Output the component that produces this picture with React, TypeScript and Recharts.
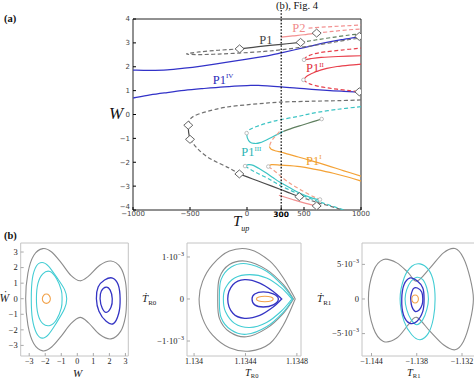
import React from "react";
import { ComposedChart, Line, Scatter, XAxis, YAxis, ReferenceArea, ReferenceLine } from "recharts";

type Pt = [number, number];

// ---- (a) branches in the (T_up, W) plane ----
const p1IvUpper: Pt[] = [[-1000, 1.86], [-850, 1.85], [-700, 1.87], [-550, 1.94], [-400, 2.03], [-200, 2.17], [0, 2.32], [200, 2.48], [300, 2.58], [500, 2.8], [700, 3.02], [850, 3.15], [985, 3.25]];
const p1IvLower: Pt[] = [[-1000, 0.69], [-850, 0.82], [-700, 0.92], [-550, 1.01], [-400, 1.08], [-200, 1.16], [0, 1.21], [100, 1.22], [300, 1.16], [500, 1.08], [700, 1.01], [850, 0.97], [985, 0.94]];
const p1Solid: Pt[] = [[-65, 2.75], [100, 2.84], [300, 2.94], [470, 3.02]];
const p1DashFold: Pt[] = [[-65, 2.75], [-250, 2.69], [-420, 2.62], [-530, 2.54], [-430, 2.51], [-250, 2.53], [-50, 2.58], [150, 2.64], [300, 2.71], [450, 2.8], [600, 2.9], [750, 3.02], [900, 3.14], [1000, 3.2]];
const p1DashRight: Pt[] = [[470, 3.02], [600, 3.12], [750, 3.23], [900, 3.33], [1000, 3.38]];
const p2Solid: Pt[] = [[300, 3.24], [400, 3.29], [500, 3.34], [611, 3.41]];
const p2DashLow: Pt[] = [[611, 3.41], [750, 3.48], [900, 3.55], [1000, 3.58]];
const p2DashHigh: Pt[] = [[540, 3.62], [700, 3.67], [850, 3.71], [1000, 3.75]];
const p1IiUpSolid: Pt[] = [[500, 2.29], [560, 2.34], [650, 2.39], [800, 2.43], [1000, 2.46]];
const p1IiUpDash: Pt[] = [[500, 2.29], [525, 2.42], [580, 2.53], [680, 2.62], [830, 2.7], [1000, 2.78]];
const p1IiLowSolid: Pt[] = [[495, 1.45], [530, 1.62], [610, 1.8], [700, 1.93], [790, 2.01], [900, 2.07], [1000, 2.11]];
const p1IiLowDash: Pt[] = [[495, 1.45], [540, 1.3], [610, 1.2], [700, 1.12], [790, 1.06], [900, 1.0], [985, 0.95]];
const grayArcTop: Pt[] = [[1000, 0.61], [800, 0.58], [600, 0.56], [300, 0.52], [100, 0.45], [-150, 0.33], [-300, 0.19], [-440, -0.01], [-500, -0.2], [-515, -0.43]];
const grayArcMid: Pt[] = [[-515, -0.43], [-512, -0.75], [-500, -1.03]];
const grayArcLow: Pt[] = [[-500, -1.03], [-440, -1.4], [-354, -1.76], [-250, -2.03], [-150, -2.26], [-67, -2.49]];
const graySolidLow: Pt[] = [[-67, -2.49], [50, -2.7], [150, -2.88], [290, -3.13], [380, -3.3], [459, -3.44]];
const grayTail: Pt[] = [[459, -3.44], [560, -3.6], [650, -3.73], [750, -3.87], [850, -4.02], [900, -4.1]];
const p1IiiUpDash: Pt[] = [[1000, 0.33], [800, 0.22], [580, 0.06], [450, -0.08], [290, -0.22], [180, -0.35], [85, -0.5], [20, -0.64], [-3, -0.78]];
const p1IiiUpSolid: Pt[] = [[-3, -0.78], [3, -0.98], [25, -1.15], [60, -1.21], [115, -1.18], [230, -0.92], [318, -0.71]];
const p1IiiUpTail: Pt[] = [[318, -0.71], [410, -0.55], [494, -0.43], [580, -0.3], [655, -0.19]];
const p1IiiLowSolid: Pt[] = [[-17, -2.16], [15, -2.1], [55, -2.13], [120, -2.3], [173, -2.46], [230, -2.65], [290, -2.84], [380, -3.08], [465, -3.3], [560, -3.48], [640, -3.58]];
const p1IiiLowDash: Pt[] = [[-17, -2.16], [30, -2.3], [100, -2.48], [200, -2.72], [290, -2.97], [400, -3.22], [500, -3.42], [600, -3.6], [700, -3.76], [850, -4.0], [900, -4.1]];
const p1IUpDash: Pt[] = [[285, -0.72], [245, -0.93], [212, -1.14], [196, -1.34]];
const p1IUpSolid: Pt[] = [[196, -1.34], [212, -1.46], [255, -1.53], [304, -1.58], [350, -1.65], [450, -1.78], [553, -1.92], [700, -2.13], [850, -2.36], [1000, -2.58]];
const p1ILowSolid: Pt[] = [[187, -2.18], [215, -2.1], [300, -2.12], [465, -2.18], [600, -2.3], [757, -2.46], [900, -2.64], [1000, -2.79]];
const p1ILowDash: Pt[] = [[187, -2.18], [230, -2.32], [270, -2.48], [300, -2.6], [377, -2.88], [480, -3.18], [582, -3.44], [640, -3.55]];
const p2LowSolid: Pt[] = [[280, -3.38], [400, -3.56], [500, -3.7], [611, -3.83]];

const bifDiamonds: Pt[] = [[-65, 2.75], [470, 3.02], [611, 3.41], [985, 3.27], [985, 0.95], [-515, -0.45], [-500, -1.04], [-67, -2.49], [459, -3.44], [611, -3.83]];
const foldMarks: Pt[] = [[-3, -0.78], [655, -0.19], [-17, -2.16], [187, -2.18], [500, 2.29], [495, 1.45], [640, -3.56]];

const curveLabels = [
  { x: 160, y: 3.13, name: "P1", sup: "", color: "#444" },
  { x: 450, y: 3.64, name: "P2", sup: "", color: "#f08a8a" },
  { x: 570, y: 1.94, name: "P1", sup: "II", color: "#e0303c" },
  { x: -247, y: 1.45, name: "P1", sup: "IV", color: "#2a2ab8" },
  { x: 2, y: -1.59, name: "P1", sup: "III", color: "#2ab5b5" },
  { x: 570, y: -1.94, name: "P1", sup: "I", color: "#f0a030" },
];

const tupTicks = [-1000, -500, 0, 300, 500, 1000];
const wTicks = [-4, -3, -2, -1, 0, 1, 2, 3, 4];

// ---- (b) phase portraits ----
const wGray: Pt[] = [[-3.22, 0], [-3.08, 1.65], [-2.72, 2.78], [-2.15, 3.22], [-1.6, 3.0], [-1.0, 2.3], [-0.4, 1.5], [0.17, 1.15], [0.7, 1.45], [1.4, 2.15], [2.1, 2.42], [2.7, 2.0], [3.0, 1.1], [3.07, 0], [3.0, -1.15], [2.7, -2.1], [2.1, -2.58], [1.4, -2.3], [0.7, -1.55], [0.17, -1.2], [-0.4, -1.6], [-1.0, -2.4], [-1.6, -3.1], [-2.15, -3.35], [-2.72, -2.88], [-3.08, -1.7]];
const wCyanOut: Pt[] = [[-2.87, 0], [-2.8, 1.3], [-2.55, 2.1], [-2.2, 2.33], [-1.8, 2.1], [-1.3, 1.4], [-0.8, 0.6], [-0.66, 0], [-0.8, -0.65], [-1.3, -1.55], [-1.8, -2.3], [-2.2, -2.53], [-2.55, -2.2], [-2.8, -1.3]];
const wCyanIn: Pt[] = [[-2.55, 0], [-2.45, 1.0], [-2.15, 1.6], [-1.7, 1.75], [-1.3, 1.3], [-1.0, 0.55], [-0.95, 0], [-1.0, -0.6], [-1.3, -1.35], [-1.7, -1.72], [-2.15, -1.6], [-2.45, -1.0]];
const wOrange: Pt[] = [[-2.18, 0], [-2.1, 0.22], [-1.93, 0.3], [-1.76, 0.22], [-1.68, 0], [-1.76, -0.22], [-1.93, -0.3], [-2.1, -0.22]];
const wBlueOut: Pt[] = [[1.19, 0], [1.3, 0.75], [1.7, 1.2], [2.2, 1.33], [2.55, 0.9], [2.67, 0], [2.58, -0.95], [2.25, -1.6], [1.8, -1.45], [1.35, -0.8]];
const wBlueIn: Pt[] = [[1.42, 0], [1.5, 0.5], [1.8, 0.75], [2.05, 0.55], [2.18, 0], [2.1, -0.55], [1.8, -0.88], [1.55, -0.6]];

const r0GrayOut: Pt[] = [[1.134787, 0], [1.134695, 0.0005], [1.13459, 0.0009], [1.134433, 0.00118], [1.134275, 0.00114], [1.134144, 0.00082], [1.134066, 0.00042], [1.134039, 0], [1.134066, -0.00046], [1.134144, -0.00086], [1.134275, -0.00116], [1.134433, -0.00124], [1.13459, -0.00106], [1.134695, -0.00062]];
const r0GrayIn: Pt[] = [[1.134774, 0], [1.134695, 0.00034], [1.134564, 0.0007], [1.134407, 0.0009], [1.134275, 0.00082], [1.134197, 0.0005], [1.134184, 0], [1.134197, -0.00046], [1.134275, -0.00078], [1.134407, -0.0009], [1.134564, -0.0007], [1.134695, -0.00034]];
const r0CyanOut: Pt[] = [[1.134769, 0], [1.134695, 0.0003], [1.134564, 0.00066], [1.134407, 0.00084], [1.134289, 0.00076], [1.13421, 0.00046], [1.134197, 0], [1.13421, -0.00044], [1.134289, -0.00074], [1.134407, -0.00084], [1.134564, -0.00066], [1.134695, -0.00031]];
const r0CyanIn: Pt[] = [[1.134761, 0], [1.134682, 0.00026], [1.134564, 0.0005], [1.134433, 0.00058], [1.134315, 0.0005], [1.134244, 0.00026], [1.134228, 0], [1.134244, -0.0003], [1.134315, -0.00058], [1.134433, -0.00068], [1.134564, -0.00056], [1.134682, -0.00028]];
const r0BlueOut: Pt[] = [[1.134682, 0], [1.134616, 0.00018], [1.134511, 0.00038], [1.134393, 0.00046], [1.134302, 0.00034], [1.134262, 0], [1.134302, -0.00034], [1.134393, -0.00046], [1.134511, -0.00039], [1.134616, -0.00019]];
const r0BlueIn: Pt[] = [[1.134656, 0], [1.134616, 0.00012], [1.134538, 0.00017], [1.134472, 0.00012], [1.134451, 0], [1.134472, -0.00014], [1.134538, -0.00019], [1.134616, -0.00014]];
const r0Orange: Pt[] = [[1.134616, 0], [1.134598, 0.000048], [1.134551, 0.000064], [1.134504, 0.000048], [1.134485, 0], [1.134504, -0.000048], [1.134551, -0.000064], [1.134598, -0.000048]];

const r1Gray: Pt[] = [[-1.14242, 0.0057], [-1.14065, 0.00522], [-1.13911, 0.00377], [-1.138, 0.00256], [-1.13623, 0.00449], [-1.13446, 0.00667], [-1.13292, 0.00729], [-1.13181, 0.00594], [-1.13093, 0.00304], [-1.13049, 0], [-1.13093, -0.00324], [-1.13181, -0.00613], [-1.13292, -0.00734], [-1.13446, -0.00662], [-1.13623, -0.00469], [-1.138, -0.00266], [-1.13911, -0.00372], [-1.14065, -0.00565], [-1.14242, -0.00613], [-1.14375, -0.0042], [-1.14441, 0], [-1.14375, 0.00401]];
const r1CyanOut: Pt[] = [[-1.13557, 0], [-1.13579, 0.00256], [-1.13645, 0.00425], [-1.13756, 0.00507], [-1.13866, 0.00473], [-1.13968, 0.00304], [-1.14021, 0], [-1.13968, -0.00324], [-1.13866, -0.00517], [-1.13756, -0.00589], [-1.13645, -0.00493], [-1.13579, -0.00275]];
const r1CyanIn: Pt[] = [[-1.13645, 0], [-1.13667, 0.00159], [-1.1372, 0.0028], [-1.138, 0.00314], [-1.13875, 0.00256], [-1.13933, 0.00135], [-1.13955, 0], [-1.13933, -0.00155], [-1.13875, -0.00299], [-1.138, -0.00372], [-1.1372, -0.00299], [-1.13667, -0.00155]];
const r1BlueOut: Pt[] = [[-1.13703, 0], [-1.1372, 0.00159], [-1.138, 0.00266], [-1.13888, 0.00304], [-1.13968, 0.00208], [-1.13999, 0], [-1.13977, -0.00227], [-1.13897, -0.00348], [-1.138, -0.00324], [-1.1372, -0.00179]];
const r1BlueIn: Pt[] = [[-1.1372, 0], [-1.13734, 0.00101], [-1.13791, 0.00159], [-1.13844, 0.0015], [-1.13875, 0.00063], [-1.1388, 0], [-1.13866, -0.00106], [-1.13822, -0.00179], [-1.13765, -0.00155], [-1.13729, -0.00082]];
const r1Orange: Pt[] = [[-1.13778, 0], [-1.13791, 0.00043], [-1.13822, 0.00058], [-1.13853, 0.00043], [-1.13866, 0], [-1.13853, -0.00043], [-1.13822, -0.00058], [-1.13791, -0.00043]];

const BLUE = "#3232c8";
const RED = "#e8404c";
const PINK = "#f29090";
const GRAY = "#707070";
const DARK = "#4a4a4a";
const CYAN = "#3cc4c4";
const ORANGE = "#f4a236";
const OLIVE = "#5f7f5f";
const SALMON = "#f3a08a";
const DASH = "4 2.5";

const rows = (pts: Pt[]) => pts.map(([x, y]) => ({ x, y }));

// catmull-rom through the points, optionally closed and with a corner at the first point
const smooth = (closed: boolean, cusp = false) => (ctx: any) => {
  let pts: number[][] = [];
  return {
    areaStart() {},
    areaEnd() {},
    lineStart() { pts = []; },
    point(x: number, y: number) { pts.push([+x, +y]); },
    lineEnd() {
      const n = pts.length;
      if (n < 2) return;
      const at = (i: number) => (closed ? pts[((i % n) + n) % n] : pts[Math.min(n - 1, Math.max(0, i))]);
      ctx.moveTo(pts[0][0], pts[0][1]);
      const segs = closed ? n : n - 1;
      for (let i = 0; i < segs; i++) {
        const p1 = at(i), p2 = at(i + 1);
        const p0 = cusp && i === 0 ? p1 : at(i - 1);
        const p3 = cusp && i === segs - 1 ? p2 : at(i + 2);
        ctx.bezierCurveTo(
          p1[0] + (p2[0] - p0[0]) / 6, p1[1] + (p2[1] - p0[1]) / 6,
          p2[0] - (p3[0] - p1[0]) / 6, p2[1] - (p3[1] - p1[1]) / 6,
          p2[0], p2[1]);
      }
      if (closed) ctx.closePath();
    },
  };
};
const openCurve = smooth(false);
const loopCurve = smooth(true);
const cuspCurve = smooth(true, true);

const branchesA = [
  { pts: p1IvUpper, color: BLUE },
  { pts: p1IvLower, color: BLUE },
  { pts: p1DashFold, color: GRAY, dash: true },
  { pts: p1DashRight, color: OLIVE, dash: true },
  { pts: p1Solid, color: DARK },
  { pts: p2DashHigh, color: PINK, dash: true },
  { pts: p2DashLow, color: PINK, dash: true },
  { pts: p2Solid, color: PINK },
  { pts: p1IiUpDash, color: RED, dash: true },
  { pts: p1IiUpSolid, color: RED },
  { pts: p1IiLowSolid, color: RED },
  { pts: p1IiLowDash, color: RED, dash: true },
  { pts: grayArcTop, color: GRAY, dash: true },
  { pts: grayArcMid, color: DARK },
  { pts: grayArcLow, color: GRAY, dash: true },
  { pts: grayTail, color: GRAY, dash: true },
  { pts: p1IiiUpDash, color: CYAN, dash: true },
  { pts: p1IiiUpSolid, color: CYAN },
  { pts: p1IiiUpTail, color: OLIVE },
  { pts: p1IiiLowDash, color: CYAN, dash: true },
  { pts: p1IUpDash, color: SALMON, dash: true },
  { pts: p1IUpSolid, color: ORANGE },
  { pts: p1ILowSolid, color: ORANGE },
  { pts: p1ILowDash, color: SALMON, dash: true },
  { pts: p2LowSolid, color: PINK },
  { pts: p1IiiLowSolid, color: CYAN },
  { pts: graySolidLow, color: DARK },
];

const minus = (v: number) => (v < 0 ? "\u2212" + Math.abs(v) : String(v));

const TopXTick = (p: any) => {
  const v = p.payload.value;
  const bold = v === 300;
  return (
    <text x={p.x} y={p.y} dy="0.75em" textAnchor="middle" fontSize={bold ? 7.5 : 7}
      fontWeight={bold ? 700 : 400} fill={bold ? "#000" : "#444"} fontFamily="'DejaVu Sans', sans-serif">
      {minus(v)}
    </text>
  );
};
// the bottom label sits in the corner next to -1000, lift it a little
const TopYTick = (p: any) => (
  <text x={p.x} y={p.y} dy={p.payload.value === -4 ? "-0.1em" : "0.35em"} textAnchor="end" fontSize={7} fill="#444" fontFamily="'DejaVu Sans', sans-serif">
    {minus(p.payload.value)}
  </text>
);

const DiamondMark = (p: any) => {
  const { cx, cy } = p;
  return <polygon points={`${cx},${cy - 4} ${cx + 4.5},${cy} ${cx},${cy + 4} ${cx - 4.5},${cy}`} fill="#fff" stroke="#555" strokeWidth={0.9} />;
};
const FoldMark = (p: any) => <circle cx={p.cx} cy={p.cy} r={1.8} fill="#fff" stroke="#b0b0b0" strokeWidth={0.8} />;
const CurveLabel = (p: any) => {
  const l = p.payload;
  return (
    <text x={p.cx - 6} y={p.cy + 4} fontSize={12.5} fill={l.color} fontFamily="'Liberation Serif', serif">
      {l.name}
      {l.sup ? <tspan dy={-5.5} fontSize={7}>{l.sup}</tspan> : null}
    </text>
  );
};

const sci = (exp: string) => (v: number) => {
  if (v === 0) return "0";
  const m = Math.abs(v) * Math.pow(10, -Number(exp));
  return (
    <>
      {v < 0 ? "\u2212" : ""}{Math.round(m)}·10<tspan dy={-4} fontSize={6}>{"\u2212" + String(-Number(exp))}</tspan>
    </>
  );
};

const serifX = (fmt: (v: number) => React.ReactNode) => (p: any) => (
  <text x={p.x} y={p.y} dy="0.72em" textAnchor="middle" fontSize={8} fill="#222" fontFamily="'Liberation Serif', serif">
    {fmt(p.payload.value)}
  </text>
);
const serifY = (fmt: (v: number) => React.ReactNode) => (p: any) => (
  <text x={p.x} y={p.y} dy="0.33em" textAnchor="end" fontSize={8.5} fill="#222" fontFamily="'Liberation Serif', serif">
    {fmt(p.payload.value)}
  </text>
);

type Loop = { pts: Pt[]; color: string; w?: number; cusp?: boolean };

function Portrait(props: {
  left: number; width: number; yw: number; right: number;
  xDomain: number[]; yDomain: number[]; xTicks: number[]; yTicks: number[];
  xFmt: (v: number) => React.ReactNode; yFmt: (v: number) => React.ReactNode; loops: Loop[];
}) {
  const { left, width, yw, right, xDomain, yDomain, xTicks, yTicks, xFmt, yFmt, loops } = props;
  return (
    <div style={{ position: "absolute", left, top: 228 }}>
      <ComposedChart width={width} height={151} margin={{ top: 15, right, bottom: 0, left: 0 }}>
        <XAxis type="number" dataKey="x" domain={xDomain} allowDataOverflow ticks={xTicks} interval={0} height={23}
          tickSize={-3} tickMargin={5} axisLine={false} tickLine={{ stroke: "#aaa" }} tick={serifX(xFmt)} />
        <YAxis type="number" dataKey="y" domain={yDomain} allowDataOverflow ticks={yTicks} interval={0} width={yw}
          tickSize={-3} tickMargin={6} axisLine={false} tickLine={{ stroke: "#aaa" }} tick={serifY(yFmt)} />
        <ReferenceArea x1={xDomain[0]} x2={xDomain[1]} y1={yDomain[0]} y2={yDomain[1]} fill="none" stroke="#c4c4c4" strokeWidth={1} />
        {loops.map((l, i) => (
          <Line key={i} data={rows(l.pts)} dataKey="y" type={l.cusp ? cuspCurve : loopCurve} stroke={l.color}
            strokeWidth={l.w ?? 1.1} dot={false} activeDot={false} isAnimationActive={false} />
        ))}
      </ComposedChart>
    </div>
  );
}

const PGRAY = "#8c8c8c";
const PCYAN = "#44cdd4";
const PBLUE = "#3434c4";
const PORANGE = "#f2a24a";

const serif = "'Liberation Serif', 'DejaVu Serif', serif";

export default function App() {
  return (
    <div style={{ position: "absolute", left: 0, top: 0, width: 474, height: 379, overflow: "hidden", background: "#fff" }}>
      <div style={{ position: "absolute", left: 0, top: 0 }}>
        <ComposedChart width={474} height={230} margin={{ top: 19, right: 113, bottom: 0, left: 0 }}>
          <XAxis type="number" dataKey="x" domain={[-1000, 1000]} allowDataOverflow ticks={tupTicks} interval={0} height={20}
            tickSize={-3} tickMargin={4} axisLine={false} tickLine={{ stroke: "#000" }} tick={TopXTick} />
          <YAxis type="number" dataKey="y" domain={[-4, 4]} allowDataOverflow ticks={wTicks} interval={0} width={133}
            tickSize={-3} tickMargin={6} axisLine={false} tickLine={{ stroke: "#000" }} tick={TopYTick} />
          {branchesA.map((b, i) => (
            <Line key={i} data={rows(b.pts)} dataKey="y" type={openCurve} stroke={b.color} strokeWidth={1.2}
              strokeDasharray={b.dash ? DASH : undefined} dot={false} activeDot={false} isAnimationActive={false} />
          ))}
          <ReferenceLine segment={[{ x: 300, y: -4 }, { x: 300, y: 4.39 }]} ifOverflow="visible" stroke="#000"
            strokeWidth={1.2} strokeDasharray="1.6 1.6" />
          <ReferenceArea x1={-1000} x2={1000} y1={-4} y2={4} fill="none" stroke="#222" strokeWidth={1} />
          <Scatter data={rows(foldMarks)} shape={FoldMark} isAnimationActive={false} />
          <Scatter data={rows(bifDiamonds)} shape={DiamondMark} isAnimationActive={false} />
          <Scatter data={curveLabels} shape={CurveLabel} isAnimationActive={false} />
        </ComposedChart>
      </div>

      <Portrait left={0} width={140} yw={20.7} right={11.7} xDomain={[-3.53, 3.18]} yDomain={[-3.68, 3.58]}
        xTicks={[-3, -2, -1, 0, 1, 2, 3]} yTicks={[-3, -2, -1, 0, 1, 2, 3]} xFmt={minus} yFmt={minus}
        loops={[
          { pts: wGray, color: PGRAY },
          { pts: wCyanOut, color: PCYAN },
          { pts: wCyanIn, color: PCYAN },
          { pts: wOrange, color: PORANGE },
          { pts: wBlueOut, color: PBLUE, w: 1.3 },
          { pts: wBlueIn, color: PBLUE, w: 1.3 },
        ]} />
      <Portrait left={150} width={165} yw={37} right={14} xDomain={[1.133945, 1.134832]} yDomain={[-0.001357, 0.001333]}
        xTicks={[1.134, 1.1344, 1.1348]} yTicks={[-0.001, 0, 0.001]} xFmt={(v) => String(v)} yFmt={sci("-3")}
        loops={[
          { pts: r0GrayOut, color: PGRAY, cusp: true },
          { pts: r0GrayIn, color: PGRAY, cusp: true },
          { pts: r0CyanOut, color: PCYAN, cusp: true },
          { pts: r0CyanIn, color: PCYAN, cusp: true },
          { pts: r0BlueOut, color: PBLUE, w: 1.3, cusp: true },
          { pts: r0BlueIn, color: PBLUE, w: 1.3 },
          { pts: r0Orange, color: PORANGE },
        ]} />
      <Portrait left={315} width={170} yw={47} right={7} xDomain={[-1.14526, -1.12988]} yDomain={[-0.00824, 0.00809]}
        xTicks={[-1.144, -1.138, -1.132]} yTicks={[-0.005, 0, 0.005]} xFmt={(v) => (v < 0 ? "\u2212" + Math.abs(v) : String(v))} yFmt={sci("-3")}
        loops={[
          { pts: r1Gray, color: PGRAY },
          { pts: r1CyanOut, color: PCYAN },
          { pts: r1CyanIn, color: PCYAN },
          { pts: r1BlueOut, color: PBLUE, w: 1.3 },
          { pts: r1BlueIn, color: PBLUE, w: 1.3 },
          { pts: r1Orange, color: PORANGE },
        ]} />

      <svg width={474} height={379} style={{ position: "absolute", left: 0, top: 0, pointerEvents: "none" }}>
        <text x={4} y={21.5} fontSize={10.5} fontWeight={700} fontFamily={serif} fill="#111">(a)</text>
        <text x={4} y={238.5} fontSize={10.5} fontWeight={700} fontFamily={serif} fill="#111">(b)</text>
        <text x={276} y={8.5} fontSize={10.5} fontFamily={serif} fill="#111">(b), Fig. 4</text>
        <text x={116} y={119} textAnchor="middle" fontSize={17} fontStyle="italic" fontFamily={serif} fill="#111">W</text>
        <text x={233} y={226} fontSize={15} fontStyle="italic" fontFamily={serif} fill="#111">
          T<tspan dy={4.5} fontSize={8}>up</tspan>
        </text>
        <text x={77.5} y={376.5} textAnchor="middle" fontSize={11} fontStyle="italic" fontFamily={serif} fill="#222">W</text>
        <text x={9} y={302} textAnchor="end" fontSize={11.5} fontStyle="italic" fontFamily={serif} fill="#222">Ẇ</text>
        <text x={142} y={302} fontSize={11} fontStyle="italic" fontFamily={serif} fill="#222">
          Ṫ<tspan dy={3} fontSize={7} fontStyle="normal">R0</tspan>
        </text>
        <text x={245} y={376} fontSize={10.5} fontStyle="italic" fontFamily={serif} fill="#222">
          T<tspan dy={1.5} fontSize={6.5} fontStyle="normal">R0</tspan>
        </text>
        <text x={317} y={302} fontSize={11} fontStyle="italic" fontFamily={serif} fill="#222">
          Ṫ<tspan dy={3} fontSize={7} fontStyle="normal">R1</tspan>
        </text>
        <text x={407} y={376} fontSize={10.5} fontStyle="italic" fontFamily={serif} fill="#222">
          T<tspan dy={1.5} fontSize={6.5} fontStyle="normal">R1</tspan>
        </text>
      </svg>
    </div>
  );
}
